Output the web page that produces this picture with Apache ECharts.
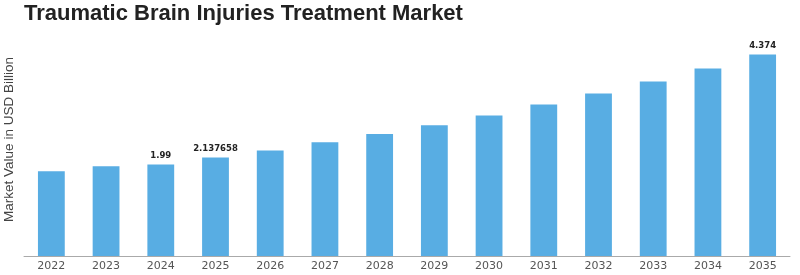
<!DOCTYPE html>
<html><head><meta charset="utf-8">
<script src="https://cdn.jsdelivr.net/npm/echarts@6/dist/echarts.min.js"></script>
<style>html,body{margin:0;padding:0;background:#fff}#c{width:800px;height:275px}</style>
</head><body><div id="c"></div>
<script>
const years = ['2022','2023','2024','2025','2026','2027','2028','2029','2030','2031','2032','2033','2034','2035'];
const values = [1.84, 1.95, 1.99, 2.137658, 2.29, 2.47, 2.65, 2.84, 3.05, 3.29, 3.53, 3.79, 4.07, 4.374];
const labeledYears = ['2024','2025','2035'];
const chart = echarts.init(document.getElementById('c'));
chart.setOption({
  animation: false,
  backgroundColor: '#ffffff',
  title: {
    text: 'Traumatic Brain Injuries Treatment Market',
    left: 19, top: -2,
    textStyle: {fontFamily: 'Liberation Sans', fontWeight: 'bold', fontSize: 22, color: '#222'}
  },
  grid: {left: 24, right: 10, top: 35, bottom: 19, outerBoundsMode: 'none', containLabel: false},
  xAxis: {
    type: 'category', data: years,
    axisLine: {lineStyle: {color: '#aaaaaa', width: 1}},
    axisTick: {show: false},
    axisLabel: {fontFamily: 'DejaVu Sans', fontSize: 11, color: '#555', margin: 5}
  },
  yAxis: {
    type: 'value', min: 0, max: 4.8,
    name: 'Market Value in USD Billion', nameLocation: 'middle', nameGap: 8,
    nameTextStyle: {fontFamily: 'Liberation Sans', fontSize: 13.5, color: '#444', padding: [0, 0, 0, 12]},
    axisLine: {show: false}, axisTick: {show: false}, axisLabel: {show: false},
    splitLine: {show: false}
  },
  series: [{
    type: 'bar', barWidth: '49%',
    itemStyle: {color: '#58ade3'},
    data: values.map((v, i) => ({
      value: v,
      label: {show: labeledYears.includes(years[i])}
    })),
    label: {
      position: 'top', distance: 4,
      fontFamily: 'DejaVu Sans', fontWeight: 'bold', fontSize: 8.5, color: '#222',
      formatter: p => String(p.value)
    }
  }]
});
</script></body></html>
